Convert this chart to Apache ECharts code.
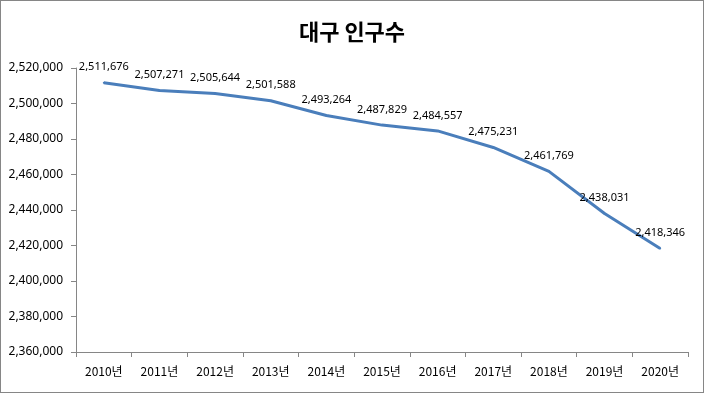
<!DOCTYPE html>
<html><head><meta charset="utf-8">
<script src="https://cdn.jsdelivr.net/npm/echarts@6/dist/echarts.min.js"></script>
<style>html,body{margin:0;padding:0;background:#fff}#c{width:704px;height:393px;box-sizing:border-box;border:1px solid #868686}</style>
</head><body><div id="c"></div>
<script>
const categories = ['2010년','2011년','2012년','2013년','2014년','2015년','2016년','2017년','2018년','2019년','2020년'];
const population = [2511676,2507271,2505644,2501588,2493264,2487829,2484557,2475231,2461769,2438031,2418346];
const yMin = 2360000, yMax = 2520000, yStep = 20000;
const fmt = v => v.toLocaleString('en-US');
const chart = echarts.init(document.getElementById('c'));
chart.setOption({
  animation:false,
  title:{text:'대구 인구수',left:'center',top:15,textStyle:{fontFamily:'Noto Sans CJK KR',fontSize:22,fontWeight:'bold',color:'#000'}},
  grid:{left:75,right:15,top:67,bottom:40,containLabel:false},
  xAxis:{type:'category',data:categories,boundaryGap:true,
    axisLine:{lineStyle:{color:'#868686',width:1}},
    axisTick:{show:true,length:5,lineStyle:{color:'#868686'}},
    axisLabel:{color:'#000',fontSize:12,margin:13,fontFamily:'Noto Sans CJK KR, sans-serif'}},
  yAxis:{type:'value',min:yMin,max:yMax,interval:yStep,
    axisLine:{show:true,lineStyle:{color:'#868686',width:1}},
    axisTick:{show:true,length:5,lineStyle:{color:'#868686'}},
    splitLine:{show:false},
    axisLabel:{color:'#000',fontSize:12,margin:13,fontFamily:'Noto Sans, sans-serif',formatter:fmt}},
  series:[{type:'line',data:population,symbol:'circle',symbolSize:2,showSymbol:true,showAllSymbol:true,smooth:false,
    itemStyle:{color:'#4a7ebb'},
    lineStyle:{color:'#4a7ebb',width:3},
    labelLayout:{hideOverlap:false},
    label:{show:true,position:'top',distance:9,color:'#000',fontSize:11,fontFamily:'Noto Sans, sans-serif',formatter:p=>fmt(p.value)}}]
});
</script></body></html>
